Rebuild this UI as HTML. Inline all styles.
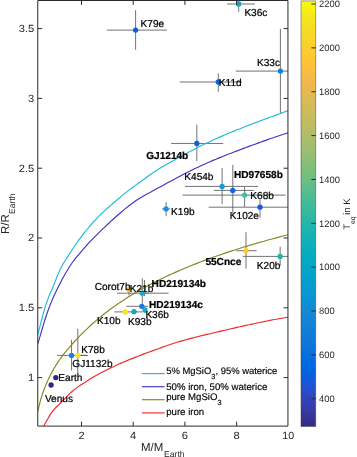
<!DOCTYPE html>
<html lang="en"><head><meta charset="utf-8"><title>Mass-radius diagram</title>
<style>html,body{margin:0;padding:0;background:#fff}svg{display:block}</style></head>
<body>
<svg width="357" height="457" viewBox="0 0 357 457" font-family="'Liberation Sans', sans-serif" fill="#000" stroke="#000" stroke-width="0.22" stroke-linejoin="round" text-rendering="geometricPrecision">
<rect x="0" y="0" width="357" height="457" fill="#fff" stroke="none"/>
<defs><linearGradient id="pg" x1="0" y1="1" x2="0" y2="0">
<stop offset="0.0000" stop-color="#352a87"/>
<stop offset="0.0159" stop-color="#363093"/>
<stop offset="0.0317" stop-color="#3637a0"/>
<stop offset="0.0476" stop-color="#353dad"/>
<stop offset="0.0635" stop-color="#3243ba"/>
<stop offset="0.0794" stop-color="#2c4ac7"/>
<stop offset="0.0952" stop-color="#2053d4"/>
<stop offset="0.1111" stop-color="#0f5cdd"/>
<stop offset="0.1270" stop-color="#0363e1"/>
<stop offset="0.1429" stop-color="#0268e1"/>
<stop offset="0.1587" stop-color="#046de0"/>
<stop offset="0.1746" stop-color="#0871de"/>
<stop offset="0.1905" stop-color="#0d75dc"/>
<stop offset="0.2063" stop-color="#1079da"/>
<stop offset="0.2222" stop-color="#127dd8"/>
<stop offset="0.2381" stop-color="#1481d6"/>
<stop offset="0.2540" stop-color="#1485d4"/>
<stop offset="0.2698" stop-color="#1389d3"/>
<stop offset="0.2857" stop-color="#108ed2"/>
<stop offset="0.3016" stop-color="#0c93d2"/>
<stop offset="0.3175" stop-color="#0998d1"/>
<stop offset="0.3333" stop-color="#079ccf"/>
<stop offset="0.3492" stop-color="#06a0cd"/>
<stop offset="0.3651" stop-color="#06a4ca"/>
<stop offset="0.3810" stop-color="#06a7c6"/>
<stop offset="0.3968" stop-color="#07a9c2"/>
<stop offset="0.4127" stop-color="#0aacbe"/>
<stop offset="0.4286" stop-color="#0faeb9"/>
<stop offset="0.4444" stop-color="#15b1b4"/>
<stop offset="0.4603" stop-color="#1db3af"/>
<stop offset="0.4762" stop-color="#25b5a9"/>
<stop offset="0.4921" stop-color="#2eb7a4"/>
<stop offset="0.5079" stop-color="#38b99e"/>
<stop offset="0.5238" stop-color="#42bb98"/>
<stop offset="0.5397" stop-color="#4dbc92"/>
<stop offset="0.5556" stop-color="#59bd8c"/>
<stop offset="0.5714" stop-color="#65be86"/>
<stop offset="0.5873" stop-color="#71bf80"/>
<stop offset="0.6032" stop-color="#7cbf7b"/>
<stop offset="0.6190" stop-color="#87bf77"/>
<stop offset="0.6349" stop-color="#92bf73"/>
<stop offset="0.6508" stop-color="#9cbf6f"/>
<stop offset="0.6667" stop-color="#a5be6b"/>
<stop offset="0.6825" stop-color="#aebe67"/>
<stop offset="0.6984" stop-color="#b7bd64"/>
<stop offset="0.7143" stop-color="#c0bc60"/>
<stop offset="0.7302" stop-color="#c8bc5d"/>
<stop offset="0.7460" stop-color="#d1bb59"/>
<stop offset="0.7619" stop-color="#d9ba56"/>
<stop offset="0.7778" stop-color="#e1b952"/>
<stop offset="0.7937" stop-color="#e9b94e"/>
<stop offset="0.8095" stop-color="#f1b94a"/>
<stop offset="0.8254" stop-color="#f8bb44"/>
<stop offset="0.8413" stop-color="#fdbe3d"/>
<stop offset="0.8571" stop-color="#ffc337"/>
<stop offset="0.8730" stop-color="#fec832"/>
<stop offset="0.8889" stop-color="#fcce2e"/>
<stop offset="0.9048" stop-color="#fad32a"/>
<stop offset="0.9206" stop-color="#f7d826"/>
<stop offset="0.9365" stop-color="#f5de21"/>
<stop offset="0.9524" stop-color="#f5e41d"/>
<stop offset="0.9683" stop-color="#f5eb18"/>
<stop offset="0.9841" stop-color="#f6f313"/>
<stop offset="1.0000" stop-color="#f9fb0e"/>
</linearGradient><clipPath id="axclip"><rect x="37.75" y="0.50" width="250.20" height="425.60"/></clipPath></defs>
<g stroke="#585860" stroke-width="0.85" fill="none" clip-path="url(#axclip)">
<line x1="106.9" y1="30.1" x2="166.9" y2="30.1"/>
<line x1="135.6" y1="10.1" x2="135.6" y2="49.7"/>
<line x1="227.1" y1="4.0" x2="254.9" y2="4.0"/>
<line x1="238.7" y1="0.5" x2="238.7" y2="11.8"/>
<line x1="179.7" y1="82.0" x2="242.0" y2="82.0"/>
<line x1="218.3" y1="73.3" x2="218.3" y2="91.8"/>
<line x1="235.8" y1="71.1" x2="288.0" y2="71.1"/>
<line x1="280.4" y1="29.0" x2="280.4" y2="112.9"/>
<line x1="171.1" y1="143.45" x2="223.2" y2="143.45"/>
<line x1="196.85" y1="124.7" x2="196.85" y2="161.2"/>
<line x1="162.0" y1="208.95" x2="170.2" y2="208.95"/>
<line x1="166.1" y1="202.1" x2="166.1" y2="216.2"/>
<line x1="185.0" y1="186.4" x2="258.0" y2="186.4"/>
<line x1="222.1" y1="168.0" x2="222.1" y2="204.2"/>
<line x1="213.9" y1="190.4" x2="254.2" y2="190.4"/>
<line x1="232.8" y1="165.0" x2="232.8" y2="214.0"/>
<line x1="182.5" y1="195.1" x2="285.7" y2="195.1"/>
<line x1="244.6" y1="187.0" x2="244.6" y2="207.0"/>
<line x1="208.6" y1="207.2" x2="288.0" y2="207.2"/>
<line x1="260.0" y1="199.6" x2="260.0" y2="217.7"/>
<line x1="236.4" y1="250.7" x2="256.6" y2="250.7"/>
<line x1="246.0" y1="232.2" x2="246.0" y2="268.7"/>
<line x1="242.7" y1="256.4" x2="288.0" y2="256.4"/>
<line x1="280.15" y1="246.8" x2="280.15" y2="266.0"/>
<line x1="127.0" y1="289.5" x2="131.0" y2="289.5"/>
<line x1="129.0" y1="285.0" x2="129.0" y2="295.5"/>
<line x1="140.0" y1="293.0" x2="149.0" y2="293.0"/>
<line x1="144.5" y1="280.0" x2="144.5" y2="296.0"/>
<line x1="117.0" y1="293.2" x2="168.6" y2="293.2"/>
<line x1="142.3" y1="278.3" x2="142.3" y2="303.6"/>
<line x1="126.4" y1="306.3" x2="148.0" y2="306.3"/>
<line x1="141.8" y1="303.6" x2="141.8" y2="309.0"/>
<line x1="143.0" y1="310.0" x2="147.0" y2="310.0"/>
<line x1="145.0" y1="307.0" x2="145.0" y2="313.0"/>
<line x1="131.0" y1="311.7" x2="137.0" y2="311.7"/>
<line x1="134.0" y1="309.5" x2="134.0" y2="314.0"/>
<line x1="114.3" y1="311.9" x2="142.8" y2="311.9"/>
<line x1="125.2" y1="309.5" x2="125.2" y2="314.5"/>
<line x1="57.2" y1="355.4" x2="87.6" y2="355.4"/>
<line x1="71.55" y1="339.8" x2="71.55" y2="370.5"/>
<line x1="76.0" y1="355.4" x2="87.6" y2="355.4"/>
<line x1="77.8" y1="328.7" x2="77.8" y2="374.3"/>
</g>
<g clip-path="url(#axclip)">
<polyline points="37.6,335.2 38.6,331.7 39.6,327.8 40.6,323.8 41.6,319.9 42.6,316.0 43.6,312.4 44.6,308.9 45.6,305.7 46.6,302.7 47.6,299.9 48.6,297.3 49.6,294.8 50.6,292.5 51.6,290.2 52.6,287.9 53.6,285.5 54.6,283.0 55.6,280.4 56.6,277.8 57.6,275.3 58.6,272.9 59.6,270.7 60.0,269.8 63.0,264.1 66.0,259.3 69.0,254.6 72.0,250.0 75.0,245.5 78.0,241.2 81.0,237.1 84.0,233.2 87.0,229.5 90.0,225.9 93.0,222.5 96.0,219.3 99.0,216.2 102.0,213.2 105.0,210.4 108.0,207.7 111.0,205.1 114.0,202.5 117.0,200.0 120.0,197.4 123.0,194.9 126.0,192.4 129.0,190.1 132.0,187.8 135.0,185.6 138.0,183.5 141.0,181.3 144.0,179.2 147.0,177.0 150.0,174.8 153.0,172.8 156.0,170.7 159.0,168.8 162.0,167.0 165.0,165.3 168.0,163.6 171.0,161.9 174.0,160.3 177.0,158.6 180.0,156.9 183.0,155.3 186.0,153.7 189.0,152.0 192.0,150.4 195.0,148.9 198.0,147.3 201.0,145.8 204.0,144.3 207.0,142.9 210.0,141.5 213.0,140.1 216.0,138.7 219.0,137.4 222.0,136.1 225.0,134.8 228.0,133.5 231.0,132.3 234.0,131.1 237.0,129.8 240.0,128.7 243.0,127.5 246.0,126.3 249.0,125.1 252.0,124.0 255.0,122.9 258.0,121.7 261.0,120.6 264.0,119.5 267.0,118.4 270.0,117.3 273.0,116.2 276.0,115.1 279.0,114.0 282.0,112.9 285.0,111.8 288.2,110.7" fill="none" stroke="#1fbcd6" stroke-width="1.15" stroke-linejoin="round"/>
<polyline points="37.6,344.4 38.6,341.2 39.6,337.9 40.6,334.4 41.6,331.0 42.6,327.5 43.6,324.2 44.6,320.9 45.6,317.8 46.6,314.7 47.6,311.8 48.6,309.0 49.6,306.4 50.6,303.8 51.6,301.4 52.6,299.0 53.6,296.7 54.6,294.5 55.6,292.4 56.6,290.3 57.6,288.2 58.6,286.2 59.6,284.3 60.0,283.5 63.0,277.8 66.0,272.5 69.0,267.5 72.0,263.0 75.0,258.9 78.0,255.3 81.0,251.8 84.0,248.3 87.0,244.9 90.0,241.6 93.0,238.6 96.0,235.6 99.0,232.6 102.0,229.7 105.0,226.8 108.0,224.0 111.0,221.2 114.0,218.5 117.0,215.8 120.0,213.2 123.0,210.6 126.0,208.1 129.0,205.7 132.0,203.5 135.0,201.3 138.0,199.3 141.0,197.4 144.0,195.7 147.0,194.0 150.0,192.4 153.0,190.7 156.0,189.1 159.0,187.5 162.0,185.9 165.0,184.2 168.0,182.6 171.0,181.0 174.0,179.4 177.0,177.8 180.0,176.2 183.0,174.6 186.0,173.1 189.0,171.6 192.0,170.1 195.0,168.6 198.0,167.2 201.0,165.8 204.0,164.4 207.0,163.0 210.0,161.7 213.0,160.4 216.0,159.2 219.0,157.9 222.0,156.7 225.0,155.5 228.0,154.3 231.0,153.2 234.0,152.0 237.0,150.9 240.0,149.7 243.0,148.6 246.0,147.5 249.0,146.4 252.0,145.3 255.0,144.2 258.0,143.1 261.0,142.0 264.0,140.9 267.0,139.9 270.0,138.8 273.0,137.8 276.0,136.7 279.0,135.7 282.0,134.7 285.0,133.8 288.2,132.8" fill="none" stroke="#3b35c6" stroke-width="1.15" stroke-linejoin="round"/>
<polyline points="37.8,411.4 38.8,407.0 39.8,403.0 40.8,399.4 41.8,396.2 42.8,393.1 43.8,390.3 44.8,387.6 45.8,385.1 46.8,382.8 47.8,380.5 48.8,378.3 49.8,376.3 50.8,374.3 51.8,372.4 52.8,370.6 53.8,368.8 54.8,367.1 55.8,365.5 56.8,363.9 57.8,362.4 58.8,360.9 59.8,359.5 60.0,359.2 63.0,355.1 66.0,351.3 69.0,347.8 72.0,344.3 75.0,341.0 78.0,337.8 81.0,334.7 84.0,331.7 87.0,328.8 90.0,326.0 93.0,323.3 96.0,320.6 99.0,318.1 102.0,315.7 105.0,313.3 108.0,311.0 111.0,308.8 114.0,306.6 117.0,304.5 120.0,302.4 123.0,300.4 126.0,298.5 129.0,296.6 132.0,294.8 135.0,293.0 138.0,291.2 141.0,289.5 144.0,287.8 147.0,286.2 150.0,284.6 153.0,283.0 156.0,281.5 159.0,280.0 162.0,278.5 165.0,277.1 168.0,275.6 171.0,274.3 174.0,272.9 177.0,271.6 180.0,270.3 183.0,269.0 186.0,267.7 189.0,266.5 192.0,265.3 195.0,264.1 198.0,262.9 201.0,261.7 204.0,260.6 207.0,259.5 210.0,258.4 213.0,257.3 216.0,256.2 219.0,255.2 222.0,254.2 225.0,253.1 228.0,252.1 231.0,251.1 234.0,250.2 237.0,249.2 240.0,248.3 243.0,247.3 246.0,246.4 249.0,245.5 252.0,244.6 255.0,243.7 258.0,242.9 261.0,242.0 264.0,241.2 267.0,240.3 270.0,239.5 273.0,238.7 276.0,237.9 279.0,237.1 282.0,236.3 285.0,235.5 288.2,234.7" fill="none" stroke="#86861f" stroke-width="1.15" stroke-linejoin="round"/>
<polyline points="43.4,426.3 44.4,424.7 45.4,423.0 46.4,421.3 47.4,419.5 48.4,417.7 49.4,416.1 50.4,414.4 51.4,412.9 52.4,411.6 53.4,410.3 54.4,409.1 55.4,408.0 56.4,407.0 57.4,406.0 58.4,405.0 59.4,404.1 60.0,403.5 63.0,400.5 66.0,397.4 69.0,394.3 72.0,391.5 75.0,389.1 78.0,386.9 81.0,384.8 84.0,382.9 87.0,380.9 90.0,379.1 93.0,377.3 96.0,375.6 99.0,373.9 102.0,372.3 105.0,370.8 108.0,369.3 111.0,367.8 114.0,366.4 117.0,365.0 120.0,363.6 123.0,362.3 126.0,361.1 129.0,359.8 132.0,358.6 135.0,357.4 138.0,356.2 141.0,355.1 144.0,353.9 147.0,352.8 150.0,351.7 153.0,350.6 156.0,349.5 159.0,348.5 162.0,347.4 165.0,346.3 168.0,345.3 171.0,344.3 174.0,343.3 177.0,342.3 180.0,341.4 183.0,340.6 186.0,339.7 189.0,338.9 192.0,338.1 195.0,337.3 198.0,336.6 201.0,335.8 204.0,335.1 207.0,334.4 210.0,333.7 213.0,333.0 216.0,332.3 219.0,331.6 222.0,330.9 225.0,330.2 228.0,329.5 231.0,328.8 234.0,328.1 237.0,327.4 240.0,326.8 243.0,326.1 246.0,325.4 249.0,324.8 252.0,324.1 255.0,323.5 258.0,322.8 261.0,322.2 264.0,321.6 267.0,321.0 270.0,320.4 273.0,319.8 276.0,319.3 279.0,318.7 282.0,318.2 285.0,317.7 288.2,317.2" fill="none" stroke="#f0282d" stroke-width="1.15" stroke-linejoin="round"/>
</g>
<circle cx="135.6" cy="30.1" r="2.65" fill="#0f5ee0" stroke="none"/>
<circle cx="238.7" cy="4.0" r="2.65" fill="#12a5c8" stroke="none"/>
<circle cx="218.3" cy="82.0" r="2.65" fill="#0f62e2" stroke="none"/>
<circle cx="280.4" cy="71.1" r="2.65" fill="#1080e0" stroke="none"/>
<circle cx="196.85" cy="143.45" r="2.65" fill="#0f5ee0" stroke="none"/>
<circle cx="166.1" cy="208.95" r="2.65" fill="#1a90e0" stroke="none"/>
<circle cx="222.1" cy="186.4" r="2.65" fill="#1798d8" stroke="none"/>
<circle cx="232.8" cy="190.4" r="2.65" fill="#1065e8" stroke="none"/>
<circle cx="244.6" cy="195.1" r="2.65" fill="#3dbfa0" stroke="none"/>
<circle cx="260.0" cy="207.2" r="2.65" fill="#1259ee" stroke="none"/>
<circle cx="246.0" cy="250.7" r="2.65" fill="#ffc83a" stroke="none"/>
<circle cx="280.15" cy="256.4" r="2.65" fill="#1fb5a5" stroke="none"/>
<circle cx="129.0" cy="289.5" r="2.65" fill="#f5c02a" stroke="none"/>
<circle cx="142.3" cy="293.2" r="2.65" fill="#1fa8c9" stroke="none"/>
<circle cx="141.8" cy="306.3" r="2.65" fill="#1e78e0" stroke="none"/>
<circle cx="145.0" cy="310.0" r="2.65" fill="#20a8c8" stroke="none"/>
<circle cx="134.0" cy="311.7" r="2.65" fill="#1fa5b5" stroke="none"/>
<circle cx="125.2" cy="311.9" r="2.65" fill="#f8e81c" stroke="none"/>
<circle cx="71.55" cy="355.4" r="2.65" fill="#1a7fe8" stroke="none"/>
<circle cx="77.8" cy="355.4" r="2.65" fill="#f5e820" stroke="none"/>
<circle cx="55.8" cy="377.6" r="2.65" fill="#2e2489" stroke="none"/>
<circle cx="51.1" cy="385.0" r="2.65" fill="#2e2489" stroke="none"/>
<g stroke="#2b2b2b" stroke-width="1" fill="none">
<rect x="37.75" y="0.5" width="250.2" height="425.6"/>
<line x1="81.50" y1="426.1" x2="81.50" y2="421.70000000000005"/>
<line x1="81.50" y1="0.5" x2="81.50" y2="4.9"/>
<line x1="133.20" y1="426.1" x2="133.20" y2="421.70000000000005"/>
<line x1="133.20" y1="0.5" x2="133.20" y2="4.9"/>
<line x1="184.90" y1="426.1" x2="184.90" y2="421.70000000000005"/>
<line x1="184.90" y1="0.5" x2="184.90" y2="4.9"/>
<line x1="236.60" y1="426.1" x2="236.60" y2="421.70000000000005"/>
<line x1="236.60" y1="0.5" x2="236.60" y2="4.9"/>
<line x1="37.75" y1="377.60" x2="42.15" y2="377.60"/>
<line x1="287.95" y1="377.60" x2="283.55" y2="377.60"/>
<line x1="37.75" y1="307.80" x2="42.15" y2="307.80"/>
<line x1="287.95" y1="307.80" x2="283.55" y2="307.80"/>
<line x1="37.75" y1="238.00" x2="42.15" y2="238.00"/>
<line x1="287.95" y1="238.00" x2="283.55" y2="238.00"/>
<line x1="37.75" y1="168.20" x2="42.15" y2="168.20"/>
<line x1="287.95" y1="168.20" x2="283.55" y2="168.20"/>
<line x1="37.75" y1="98.40" x2="42.15" y2="98.40"/>
<line x1="287.95" y1="98.40" x2="283.55" y2="98.40"/>
<line x1="37.75" y1="28.60" x2="42.15" y2="28.60"/>
<line x1="287.95" y1="28.60" x2="283.55" y2="28.60"/>
</g>
<g font-size="10.4" fill="#262626" stroke="none">
<text transform="translate(81.50,438.8) scale(1.07,1)" text-anchor="middle">2</text>
<text transform="translate(133.20,438.8) scale(1.07,1)" text-anchor="middle">4</text>
<text transform="translate(184.90,438.8) scale(1.07,1)" text-anchor="middle">6</text>
<text transform="translate(236.60,438.8) scale(1.07,1)" text-anchor="middle">8</text>
<text transform="translate(288.30,438.8) scale(1.03,1)" text-anchor="middle">10</text>
<text transform="translate(34.3,381.00) scale(1.07,1)" text-anchor="end">1</text>
<text transform="translate(34.3,311.20) scale(1.07,1)" text-anchor="end">1.5</text>
<text transform="translate(34.3,241.40) scale(1.07,1)" text-anchor="end">2</text>
<text transform="translate(34.3,171.60) scale(1.07,1)" text-anchor="end">2.5</text>
<text transform="translate(34.3,101.80) scale(1.07,1)" text-anchor="end">3</text>
<text transform="translate(34.3,32.00) scale(1.07,1)" text-anchor="end">3.5</text>
</g>
<text x="140.9" y="451.0" font-size="11.5" fill="#262626" stroke="none">M/M<tspan font-size="8.6" dx="0.8" dy="5.6">Earth</tspan></text>
<text transform="translate(9.3,234.0) rotate(-90)" font-size="11.5" fill="#262626" stroke="none">R/R<tspan font-size="8.6" dx="0.3" dy="5.8">Earth</tspan></text>
<rect x="301.0" y="0.9" width="14.699999999999989" height="425.6" fill="url(#pg)" stroke="none"/>
<rect x="301.0" y="0.9" width="14.699999999999989" height="425.6" fill="none" stroke="#333" stroke-width="0.45"/>
<g stroke="#2b2b2b" stroke-width="1">
<line x1="311.4" y1="4.00" x2="315.7" y2="4.00"/>
<line x1="311.4" y1="47.86" x2="315.7" y2="47.86"/>
<line x1="311.4" y1="91.72" x2="315.7" y2="91.72"/>
<line x1="311.4" y1="135.58" x2="315.7" y2="135.58"/>
<line x1="311.4" y1="179.44" x2="315.7" y2="179.44"/>
<line x1="311.4" y1="223.30" x2="315.7" y2="223.30"/>
<line x1="311.4" y1="267.16" x2="315.7" y2="267.16"/>
<line x1="311.4" y1="311.02" x2="315.7" y2="311.02"/>
<line x1="311.4" y1="354.88" x2="315.7" y2="354.88"/>
<line x1="311.4" y1="398.74" x2="315.7" y2="398.74"/>
</g>
<g font-size="9.4" fill="#262626" stroke="none">
<text x="319.0" y="7.20">2200</text>
<text x="319.0" y="51.06">2000</text>
<text x="319.0" y="94.92">1800</text>
<text x="319.0" y="138.78">1600</text>
<text x="319.0" y="182.64">1400</text>
<text x="319.0" y="226.50">1200</text>
<text x="319.0" y="270.36">1000</text>
<text x="319.0" y="314.22">800</text>
<text x="319.0" y="358.08">600</text>
<text x="319.0" y="401.94">400</text>
</g>
<text transform="translate(350.1,229.8) rotate(-90)" font-size="9.4" fill="#262626" stroke="none">T<tspan font-size="6.9" dy="4.6">eq</tspan><tspan dx="-0.9" dy="-4.6"> in K</tspan></text>
<g font-size="10.1">
<text x="140.6" y="27.0">K79e</text>
<text x="244.4" y="15.9">K36c</text>
<text x="218.8" y="85.7">K11d</text>
<text x="257.0" y="65.8">K33c</text>
<text x="146.2" y="159.1" font-weight="bold" font-size="10.1">GJ1214b</text>
<text x="171.1" y="214.6">K19b</text>
<text x="184.3" y="180.4">K454b</text>
<text x="234.0" y="178.4" font-weight="bold" font-size="10.1">HD97658b</text>
<text x="250.3" y="198.6">K68b</text>
<text x="229.8" y="218.8">K102e</text>
<text x="205.4" y="265.3" font-weight="bold" font-size="10.1">55Cnce</text>
<text x="256.8" y="269.1">K20b</text>
<text x="94.7" y="290.4">Corot7b</text>
<text x="129.7" y="291.8">K21b</text>
<text x="151.6" y="287.1" font-weight="bold" font-size="10.1">HD219134b</text>
<text x="149.0" y="308.3" font-weight="bold" font-size="10.1">HD219134c</text>
<text x="145.4" y="317.6">K36b</text>
<text x="128.0" y="325.2">K93b</text>
<text x="97.0" y="323.8">K10b</text>
<text x="72.3" y="366.8">GJ1132b</text>
<text x="81.2" y="352.8">K78b</text>
<text x="58.3" y="381.1">Earth</text>
<text x="44.9" y="402.2">Venus</text>
</g>
<g stroke-width="1.15" fill="none">
<line x1="141.9" y1="373.6" x2="164.6" y2="373.6" stroke="#1fbcd6"/>
<line x1="141.9" y1="386.7" x2="164.6" y2="386.7" stroke="#3b35c6"/>
<line x1="141.9" y1="399.7" x2="164.6" y2="399.7" stroke="#86861f"/>
<line x1="141.9" y1="412.9" x2="164.6" y2="412.9" stroke="#f0282d"/>
</g>
<g font-size="9.65" stroke-width="0.15">
<text x="166.2" y="374.4" font-size="9.45">5% MgSiO<tspan font-size="7.4" dy="4.6">3</tspan><tspan dy="-4.6">, 95% waterice</tspan></text>
<text x="166.2" y="389.6">50% iron, 50% waterice</text>
<text x="166.2" y="400.3" font-size="9.6">pure MgSiO<tspan font-size="7.4" dy="4.6">3</tspan></text>
<text x="166.2" y="415.3" font-size="9.65">pure iron</text>
</g>
</svg>
</body></html>
